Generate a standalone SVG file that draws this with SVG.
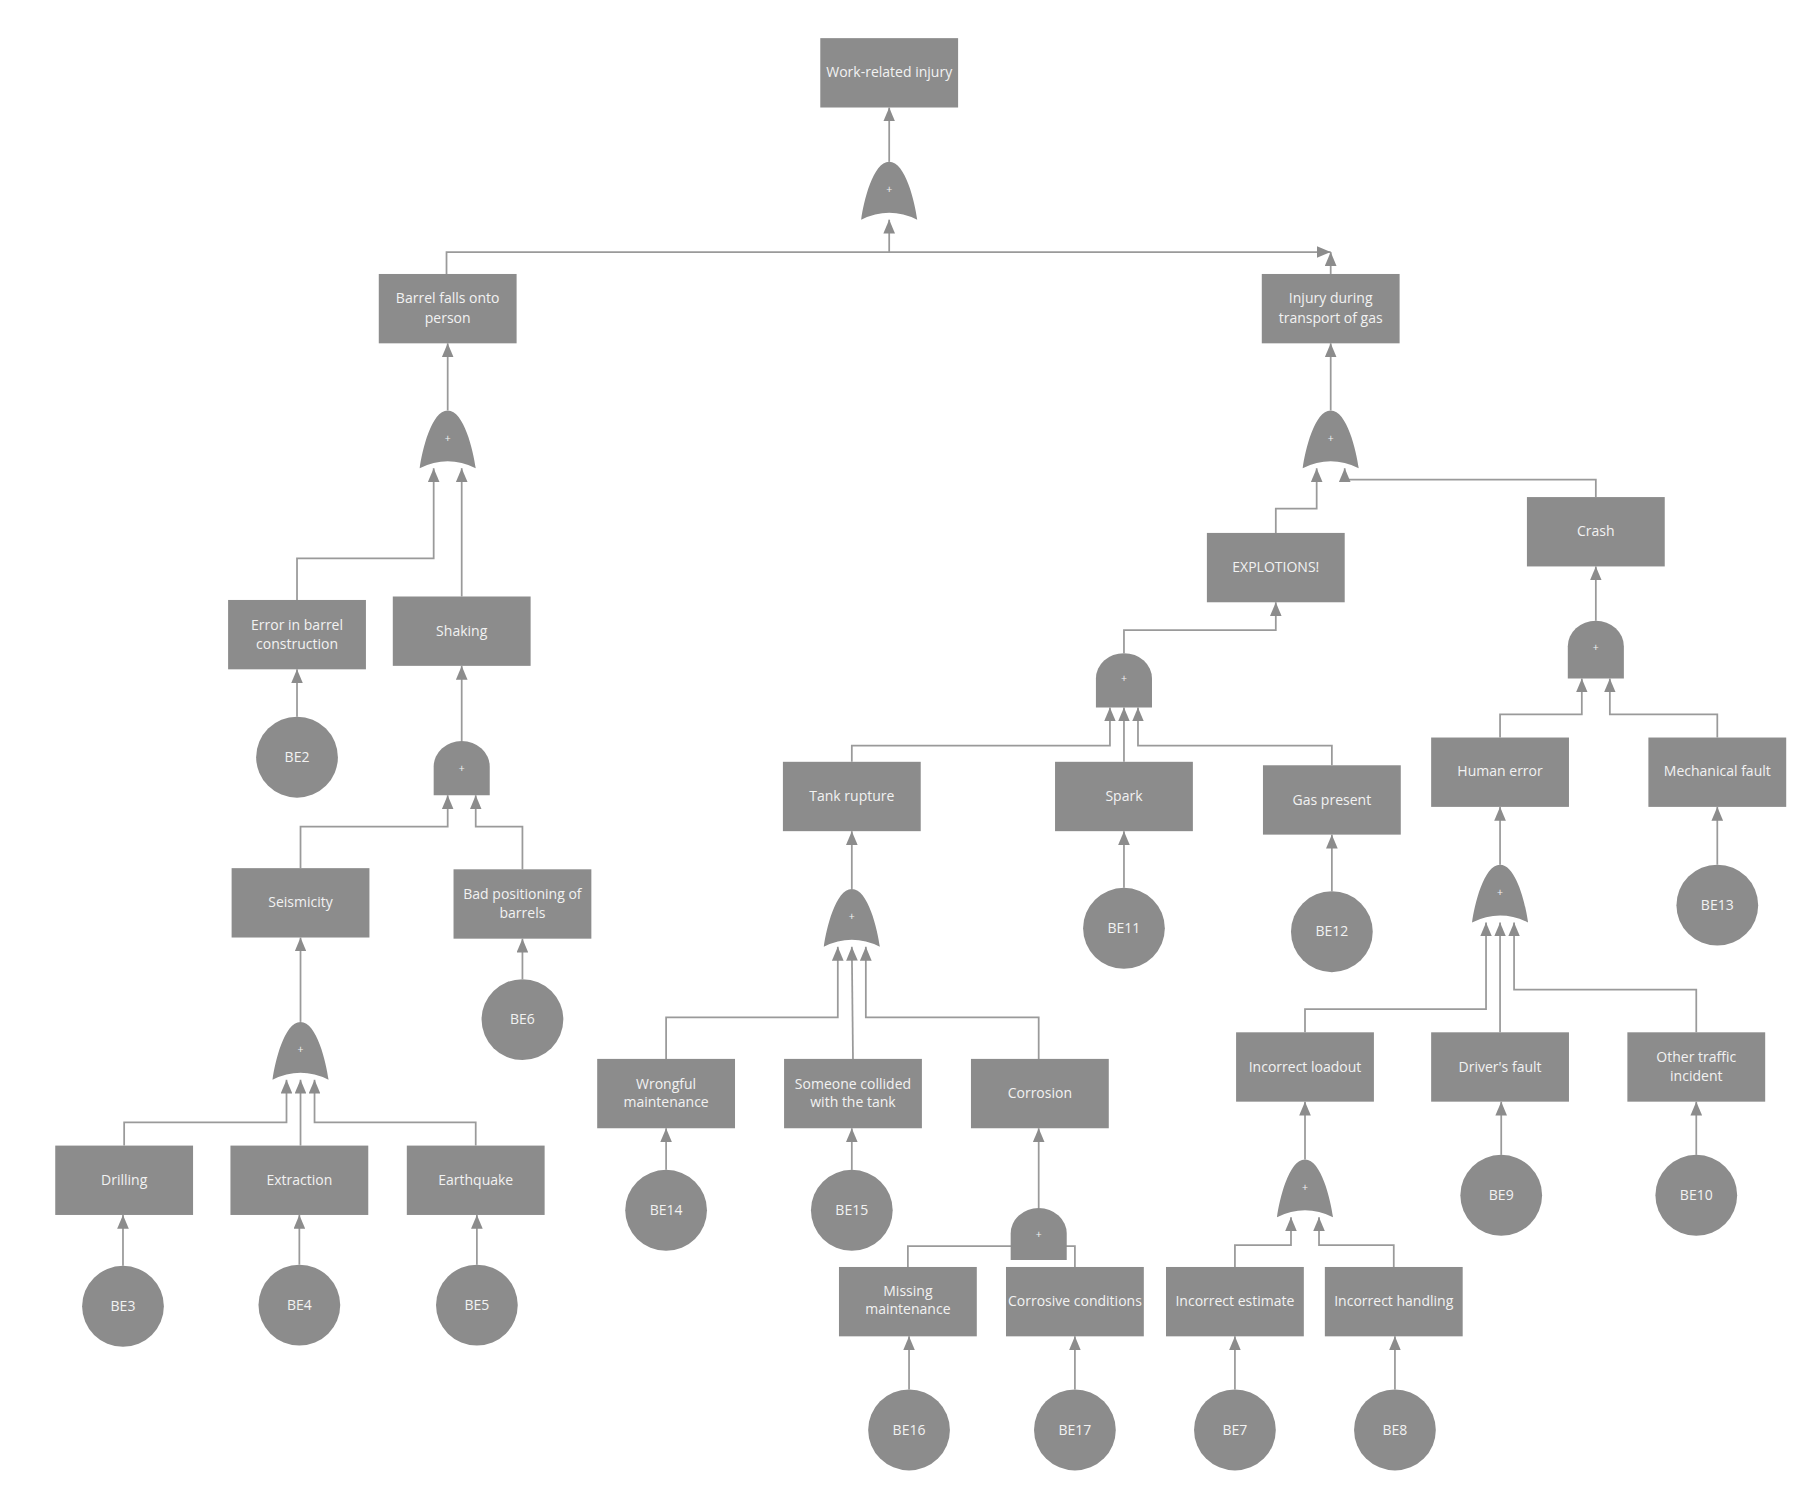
<svg xmlns="http://www.w3.org/2000/svg" width="1813" height="1507" viewBox="0 0 1813 1507">
<defs>
<style>
.b{fill:#8c8c8c}
.t{font-family:"Open Sans","DejaVu Sans",sans-serif;font-size:12px;fill:#f2f2f2;text-anchor:middle}
.c{fill:none;stroke:#9a9a9a;stroke-width:1.5}
.g{fill:#8c8c8c}
</style>
<marker id="a" markerUnits="userSpaceOnUse" markerWidth="12" markerHeight="10" refX="12" refY="5" orient="auto"><path d="M0,0 L12,5 L0,10 Z" fill="#8c8c8c"/></marker>
</defs>
<rect width="1813" height="1507" fill="#fff"/>
<g transform="matrix(1.168 0 0 1.156 -9 0)">
<g id="connectors" class="c" marker-end="url(#a)">
<polyline points="769,140 769,93"/>
<polyline points="769,218 769,190"/>
<polyline points="390,237 390,218 1147,218"/>
<polyline points="1147,237 1147,218"/>
<polyline points="391,355 391,297"/>
<polyline points="262,519 262,483 379,483 379,405"/>
<polyline points="403,516 403,405"/>
<polyline points="262,620 262,579"/>
<polyline points="403,641 403,576"/>
<polyline points="265,751 265,715 391,715 391,688"/>
<polyline points="455,752 455,715 415,715 415,688"/>
<polyline points="455,847 455,812"/>
<polyline points="265,884 265,811"/>
<polyline points="114,991 114,971 253,971 253,934"/>
<polyline points="265,991 265,934"/>
<polyline points="415,991 415,971 277,971 277,934"/>
<polyline points="113,1095 113,1051"/>
<polyline points="264,1094 264,1051"/>
<polyline points="416,1094 416,1051"/>
<polyline points="1147,355 1147,297"/>
<polyline points="1100,461 1100,440 1135,440 1135,405"/>
<polyline points="1374,430 1374,415 1159,415 1159,405"/>
<polyline points="970,565 970,545 1100,545 1100,521"/>
<polyline points="737,659 737,645 958,645 958,612"/>
<polyline points="970,659 970,612"/>
<polyline points="1148,662 1148,645 982,645 982,612"/>
<polyline points="970,768 970,719"/>
<polyline points="1148,771 1148,722"/>
<polyline points="737,769 737,719"/>
<polyline points="578,916 578,880 725,880 725,819"/>
<polyline points="738,916 737,819"/>
<polyline points="897,916 897,880 749,880 749,819"/>
<polyline points="578,1012 578,976"/>
<polyline points="737,1012 737,976"/>
<polyline points="897,1045 897,976"/>
<polyline points="785,1096 785,1078 885,1078 885,1090"/>
<polyline points="928,1096 928,1078 909,1078 909,1090"/>
<polyline points="786,1202 786,1156"/>
<polyline points="928,1202 928,1156"/>
<polyline points="1374,537 1374,490"/>
<polyline points="1292,638 1292,618 1362,618 1362,587"/>
<polyline points="1478,638 1478,618 1386,618 1386,587"/>
<polyline points="1478,748 1478,698"/>
<polyline points="1292,748 1292,698"/>
<polyline points="1125,893 1125,873 1280,873 1280,798"/>
<polyline points="1292,893 1292,798"/>
<polyline points="1460,893 1460,856 1304,856 1304,798"/>
<polyline points="1293,999 1293,953"/>
<polyline points="1460,999 1460,953"/>
<polyline points="1125,1003 1125,953"/>
<polyline points="1065,1096 1065,1077 1113,1077 1113,1053"/>
<polyline points="1201,1096 1201,1077 1137,1077 1137,1053"/>
<polyline points="1065,1202 1065,1156"/>
<polyline points="1202,1202 1202,1156"/>
</g>
<g id="gates" class="g">
<g id="g1"><path d="M769,140 C783,140 791,175 793,190 Q769,178 745,190 C747,175 755,140 769,140 Z"/></g>
<g id="g2"><path d="M391,355 C405,355 413,390 415,405 Q391,393 367,405 C369,390 377,355 391,355 Z"/></g>
<g id="g3"><path d="M379,688 L379,663 A24,22 0 0 1 427,663 L427,688 Z"/></g>
<g id="g4"><path d="M265,884 C279,884 287,919 289,934 Q265,922 241,934 C243,919 251,884 265,884 Z"/></g>
<g id="g5"><path d="M1147,355 C1161,355 1169,390 1171,405 Q1147,393 1123,405 C1125,390 1133,355 1147,355 Z"/></g>
<g id="g6"><path d="M946,612 L946,587 A24,22 0 0 1 994,587 L994,612 Z"/></g>
<g id="g7"><path d="M737,769 C751,769 759,804 761,819 Q737,807 713,819 C715,804 723,769 737,769 Z"/></g>
<g id="g8"><path d="M873,1090 L873,1067 A24,22 0 0 1 921,1067 L921,1090 Z"/></g>
<g id="g9"><path d="M1350,587 L1350,559 A24,22 0 0 1 1398,559 L1398,587 Z"/></g>
<g id="g10"><path d="M1292,748 C1306,748 1314,783 1316,798 Q1292,786 1268,798 C1270,783 1278,748 1292,748 Z"/></g>
<g id="g11"><path d="M1125,1003 C1139,1003 1147,1038 1149,1053 Q1125,1041 1101,1053 C1103,1038 1111,1003 1125,1003 Z"/></g>
<g class="t" style="font-size:9px"><text x="769" y="167">+</text><text x="391" y="382">+</text><text x="403" y="668">+</text><text x="265" y="911">+</text><text x="1147" y="382">+</text><text x="970" y="590">+</text><text x="737" y="796">+</text><text x="897" y="1071">+</text><text x="1374" y="563">+</text><text x="1292" y="775">+</text><text x="1125" y="1030">+</text></g>
</g>
<g id="n1"><rect class="b" x="710" y="33" width="118" height="60"/><text class="t" x="769" y="67">Work-related injury</text></g>
<g id="n2"><rect class="b" x="332" y="237" width="118" height="60"/><text class="t" x="391" y="262">Barrel falls onto</text><text class="t" x="391" y="279">person</text></g>
<g id="n3"><rect class="b" x="1088" y="237" width="118" height="60"/><text class="t" x="1147" y="262">Injury during</text><text class="t" x="1147" y="279">transport of gas</text></g>
<g id="n4"><rect class="b" x="203" y="519" width="118" height="60"/><text class="t" x="262" y="545">Error in barrel</text><text class="t" x="262" y="561">construction</text></g>
<g id="n5"><rect class="b" x="344" y="516" width="118" height="60"/><text class="t" x="403" y="550">Shaking</text></g>
<g id="n6"><circle class="b" cx="262" cy="655" r="35"/><text class="t" x="262" y="659">BE2</text></g>
<g id="n7"><rect class="b" x="206" y="751" width="118" height="60"/><text class="t" x="265" y="785">Seismicity</text></g>
<g id="n8"><rect class="b" x="396" y="752" width="118" height="60"/><text class="t" x="455" y="778">Bad positioning of</text><text class="t" x="455" y="794">barrels</text></g>
<g id="n9"><circle class="b" cx="455" cy="882" r="35"/><text class="t" x="455" y="886">BE6</text></g>
<g id="n10"><rect class="b" x="55" y="991" width="118" height="60"/><text class="t" x="114" y="1025">Drilling</text></g>
<g id="n11"><rect class="b" x="205" y="991" width="118" height="60"/><text class="t" x="264" y="1025">Extraction</text></g>
<g id="n12"><rect class="b" x="356" y="991" width="118" height="60"/><text class="t" x="415" y="1025">Earthquake</text></g>
<g id="n13"><circle class="b" cx="113" cy="1130" r="35"/><text class="t" x="113" y="1134">BE3</text></g>
<g id="n14"><circle class="b" cx="264" cy="1129" r="35"/><text class="t" x="264" y="1133">BE4</text></g>
<g id="n15"><circle class="b" cx="416" cy="1129" r="35"/><text class="t" x="416" y="1133">BE5</text></g>
<g id="n16"><rect class="b" x="1041" y="461" width="118" height="60"/><text class="t" x="1100" y="495">EXPLOTIONS!</text></g>
<g id="n17"><rect class="b" x="1315" y="430" width="118" height="60"/><text class="t" x="1374" y="464">Crash</text></g>
<g id="n18"><rect class="b" x="678" y="659" width="118" height="60"/><text class="t" x="737" y="693">Tank rupture</text></g>
<g id="n19"><rect class="b" x="911" y="659" width="118" height="60"/><text class="t" x="970" y="693">Spark</text></g>
<g id="n20"><rect class="b" x="1089" y="662" width="118" height="60"/><text class="t" x="1148" y="696">Gas present</text></g>
<g id="n21"><circle class="b" cx="970" cy="803" r="35"/><text class="t" x="970" y="807">BE11</text></g>
<g id="n22"><circle class="b" cx="1148" cy="806" r="35"/><text class="t" x="1148" y="810">BE12</text></g>
<g id="n23"><rect class="b" x="519" y="916" width="118" height="60"/><text class="t" x="578" y="942">Wrongful</text><text class="t" x="578" y="958">maintenance</text></g>
<g id="n24"><rect class="b" x="679" y="916" width="118" height="60"/><text class="t" x="738" y="942">Someone collided</text><text class="t" x="738" y="958">with the tank</text></g>
<g id="n25"><rect class="b" x="839" y="916" width="118" height="60"/><text class="t" x="898" y="950">Corrosion</text></g>
<g id="n26"><circle class="b" cx="578" cy="1047" r="35"/><text class="t" x="578" y="1051">BE14</text></g>
<g id="n27"><circle class="b" cx="737" cy="1047" r="35"/><text class="t" x="737" y="1051">BE15</text></g>
<g id="n28"><rect class="b" x="726" y="1096" width="118" height="60"/><text class="t" x="785" y="1121">Missing</text><text class="t" x="785" y="1137">maintenance</text></g>
<g id="n29"><rect class="b" x="869" y="1096" width="118" height="60"/><text class="t" x="928" y="1130">Corrosive conditions</text></g>
<g id="n30"><circle class="b" cx="786" cy="1237" r="35"/><text class="t" x="786" y="1241">BE16</text></g>
<g id="n31"><circle class="b" cx="928" cy="1237" r="35"/><text class="t" x="928" y="1241">BE17</text></g>
<g id="n32"><rect class="b" x="1233" y="638" width="118" height="60"/><text class="t" x="1292" y="671">Human error</text></g>
<g id="n33"><rect class="b" x="1419" y="638" width="118" height="60"/><text class="t" x="1478" y="671">Mechanical fault</text></g>
<g id="n34"><circle class="b" cx="1478" cy="783" r="35"/><text class="t" x="1478" y="787">BE13</text></g>
<g id="n35"><rect class="b" x="1066" y="893" width="118" height="60"/><text class="t" x="1125" y="927">Incorrect loadout</text></g>
<g id="n36"><rect class="b" x="1233" y="893" width="118" height="60"/><text class="t" x="1292" y="927">Driver's fault</text></g>
<g id="n37"><rect class="b" x="1401" y="893" width="118" height="60"/><text class="t" x="1460" y="919">Other traffic</text><text class="t" x="1460" y="935">incident</text></g>
<g id="n38"><circle class="b" cx="1293" cy="1034" r="35"/><text class="t" x="1293" y="1038">BE9</text></g>
<g id="n39"><circle class="b" cx="1460" cy="1034" r="35"/><text class="t" x="1460" y="1038">BE10</text></g>
<g id="n40"><rect class="b" x="1006" y="1096" width="118" height="60"/><text class="t" x="1065" y="1130">Incorrect estimate</text></g>
<g id="n41"><rect class="b" x="1142" y="1096" width="118" height="60"/><text class="t" x="1201" y="1130">Incorrect handling</text></g>
<g id="n42"><circle class="b" cx="1065" cy="1237" r="35"/><text class="t" x="1065" y="1241">BE7</text></g>
<g id="n43"><circle class="b" cx="1202" cy="1237" r="35"/><text class="t" x="1202" y="1241">BE8</text></g>
</g>
</svg>
